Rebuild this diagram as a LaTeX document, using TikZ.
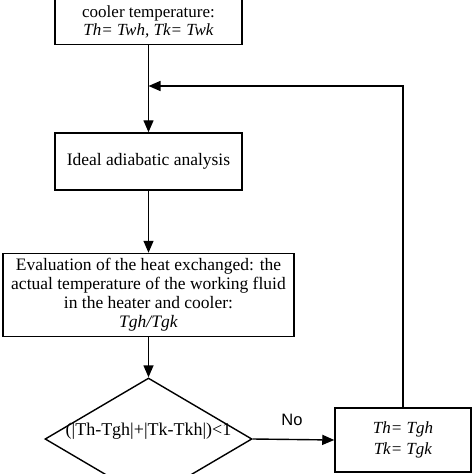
\documentclass[tikz,border=0pt]{standalone}
\usepackage{fontspec}
\setmainfont{Liberation Serif}
\newfontfamily\nosans{Liberation Sans}
\usetikzlibrary{shapes.geometric,arrows.meta}
\tikzset{
  procbox/.style={draw, line width=1.5pt, rectangle, inner sep=0pt, align=center,
    font=\fontsize{17.5}{19}\selectfont},
  flow/.style={line width=1.4pt, -{Triangle[length=12pt,width=10pt]}},
  decbox/.style={draw, line width=1.4pt, diamond, inner sep=0pt, minimum width=207pt, minimum height=122pt},
}
\begin{document}
\begin{tikzpicture}[x=1pt,y=-1pt]
\useasboundingbox (0,0) rectangle (474,474);
\clip (0,0) rectangle (474,474);
\node[procbox, minimum width=187pt, minimum height=46pt, font=\fontsize{17}{18}\selectfont] (top) at (148.5,21.5)
  {cooler temperature:\\ \textit{Th= Twh, Tk= Twk}};
\node[procbox, minimum width=187pt, minimum height=57pt] (ideal) at (148.5,161.5)
  {Ideal adiabatic analysis};
\node[procbox, minimum width=291pt, minimum height=83pt] (eval) at (148.5,295)
  {Evaluation of the heat exchanged: the\\ actual temperature of the working fluid\\ in the heater and cooler:\\ \textit{Tgh/Tgk}};
\node[decbox] (dec) at (148.5,439) {};
\node[font=\fontsize{18}{19}\selectfont, inner sep=0pt] (dectext) at (148.5,431) {(|Th-Tgh|+|Tk-Tkh|)<1};
\node[procbox, minimum width=136pt, minimum height=64pt, font=\fontsize{17}{21}\selectfont] (upd) at (403,440)
  {\textit{Th= Tgh}\\ \textit{Tk= Tgk}};
\node[font=\nosans\fontsize{16.5}{19}\selectfont, inner sep=0pt] (no) at (292,420) {No};
\coordinate (m) at (148.5,86);
\draw[flow] (top.south) -- (ideal.north);
\draw[flow] (ideal.south) -- (eval.north);
\draw[flow] (eval.south) -- (dec.north);
\draw[flow] (dec.east) -- (upd.west);
\draw[flow] (upd.north) |- (m);
\end{tikzpicture}
\end{document}
